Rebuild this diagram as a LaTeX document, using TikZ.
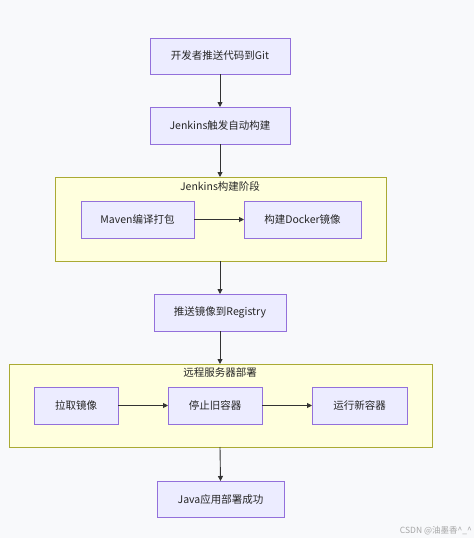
\documentclass[tikz,border=0pt]{standalone}
\usepackage{fontspec}
\setmainfont{Noto Sans CJK SC}
\newfontfamily\cjk{Noto Sans CJK SC}
\usetikzlibrary{arrows.meta}
\definecolor{bgc}{HTML}{F8F9FB}
\definecolor{nodefill}{HTML}{ECECFF}
\definecolor{nodedraw}{HTML}{9370DB}
\definecolor{clfill}{HTML}{FFFFDE}
\definecolor{cldraw}{HTML}{AAAA33}
\definecolor{linec}{HTML}{333333}
\tikzset{
  x=1pt, y=-1pt,
  box/.style={draw=nodedraw, fill=nodefill, line width=0.8pt},
  lbl/.style={inner sep=0pt, font=\cjk\fontsize{10.5}{12}\selectfont, text=black!85},
  cluster/.style={draw=cldraw, fill=clfill, line width=0.8pt},
  cltitle/.style={font=\cjk\fontsize{10.5}{12}\selectfont, text=black!85},
  conn/.style={draw=linec, line width=0.9pt, -{Triangle[length=5pt,width=5pt]}},
}
\newcommand{\mkbox}[6]{% name, x1, y1, x2, y2, text
  \path[box] (#2,#3) rectangle (#4,#5);
  \node[lbl] (#1) at ({(#2+#4)/2},{(#3+#5)/2}) {#6};
  \coordinate (#1-n) at ({(#2+#4)/2},#3);
  \coordinate (#1-s) at ({(#2+#4)/2},#5);
  \coordinate (#1-w) at (#2,{(#3+#5)/2});
  \coordinate (#1-e) at (#4,{(#3+#5)/2});
}
\begin{document}
\begin{tikzpicture}
\fill[bgc] (0,0) rectangle (474,538);
\useasboundingbox (0,0) rectangle (474,538);
% clusters
\path[cluster] (55,177) rectangle (386,261);
\coordinate (g1-n) at (220,177);
\coordinate (g1-s) at (220,261);
\node[cltitle] (g1t) at (220,186) {Jenkins构建阶段};
\path[cluster] (9,364) rectangle (432,447);
\coordinate (g2-n) at (220,364);
\coordinate (g2-s) at (220,447);
\node[cltitle] (g2t) at (220,372) {远程服务器部署};
% nodes
\mkbox{a}{150}{38}{290}{74}{开发者推送代码到Git}
\mkbox{b}{150}{107}{290}{144}{Jenkins触发自动构建}
\mkbox{c}{81}{201}{194}{238}{Maven编译打包}
\mkbox{d}{244}{201}{361}{238}{构建Docker镜像}
\mkbox{e}{154}{294}{286}{331}{推送镜像到Registry}
\mkbox{f}{34}{387}{118}{424}{拉取镜像}
\mkbox{g}{168}{387}{262}{424}{停止旧容器}
\mkbox{h}{312}{387}{407}{424}{运行新容器}
\mkbox{i}{157}{481}{284}{517}{Java应用部署成功}
% connectors
\draw[conn] (a-s) -- (b-n);
\draw[conn] (b-s) -- (g1-n);
\draw[conn] (c-e) -- (d-w);
\draw[conn] (g1-s) -- (e-n);
\draw[conn] (e-s) -- (g2-n);
\draw[conn] (f-e) -- (g-w);
\draw[conn] (g-e) -- (h-w);
\draw[conn] (g2-s) -- (i-n);
% watermark
\node[font=\cjk\fontsize{8.5}{10}\selectfont, text=black!35, anchor=east, inner sep=0pt] (wm) at (472,531) {CSDN @油墨香\^{}\_\^{}};
\end{tikzpicture}
\end{document}
